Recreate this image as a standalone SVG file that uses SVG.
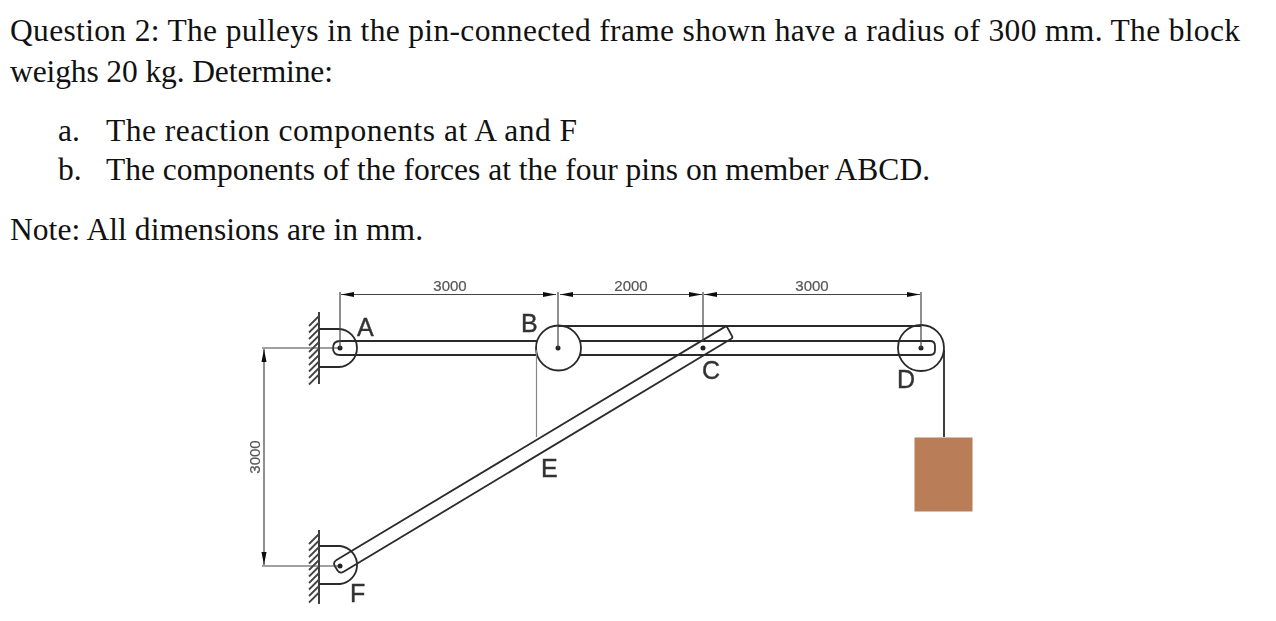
<svg xmlns="http://www.w3.org/2000/svg" width="1276" height="621" viewBox="0 0 1276 621">
<style>
.q{font-family:"Liberation Serif","Times New Roman",serif;font-size:31.5px;fill:#111}
.l{font-family:"Liberation Sans",Arial,sans-serif;font-size:25px;fill:#333;stroke:#333;stroke-width:.4}
.d{font-family:"Liberation Sans",Arial,sans-serif;font-size:15px;fill:#555;stroke:#555;stroke-width:.2}
.s{fill:none;stroke:#2a2a2a;stroke-width:1.8}
.t{fill:none;stroke:#444;stroke-width:1.2}
.r{fill:none;stroke:#888;stroke-width:1.2}
.h{fill:none;stroke:#444;stroke-width:1.8}
.pin{fill:#222}
</style>
<defs>
<filter id="b" x="-2%" y="-2%" width="104%" height="104%"><feGaussianBlur stdDeviation="0.55"/></filter>
<marker id="ah" markerWidth="14" markerHeight="6" refX="13" refY="3" orient="auto-start-reverse" markerUnits="userSpaceOnUse"><path d="M0 .5L13 3L0 5.500z" fill="#111"/></marker>
<path id="hatch" d="M0 0l-10 10M0 6.500l-10 10M0 13l-10 10M0 19.500l-10 10M0 26l-10 10M0 32.500l-10 10M0 39l-10 10M0 45.500l-10 10M0 52l-10 10M0 58.500l-10 10" class="h"/>
</defs>
<rect width="1276" height="621" fill="#fff"/>
<g id="question">
<text class="q" x="10" y="41" textLength="1230">Question 2: The pulleys in the pin-connected frame shown have a radius of 300 mm. The block</text>
<text class="q" x="10" y="82" textLength="323">weighs 20 kg. Determine:</text>
<text class="q" x="58" y="141">a.</text>
<text class="q" x="106" y="141" textLength="471">The reaction components at A and F</text>
<text class="q" x="58" y="180">b.</text>
<text class="q" x="106" y="180" textLength="824">The components of the forces at the four pins on member ABCD.</text>
<text class="q" x="10" y="240" textLength="413">Note: All dimensions are in mm.</text>
</g>
<g id="wall-A" filter="url(#b)"><path class="s" d="M319 312V384"/><use href="#hatch" x="319" y="316"/></g>
<g id="wall-F" filter="url(#b)"><path class="s" d="M319 530V604"/><use href="#hatch" x="319" y="534"/></g>
<g id="F" filter="url(#b)">
<path class="s" d="M319 546H340A19 19 0 0 1 357 566A19 19 0 0 1 340 584H319"/>
</g>
<g id="member-FC" filter="url(#b)">
<path class="s" d="M336.500 560L724.800 326.900Q726.500 326 727.400 327.600L732 336Q733 337.700 731.300 338.700L343.600 571.800Q340 574 337.500 570.500L334.500 565.500Q333 562 336.500 560Z" fill="#fff"/>
</g>
<g id="member-ABCD" filter="url(#b)">
<path class="s" d="M346 341H930Q935 341 935 346V350Q935 355 930 355H340Q333 355 333 348Q333 341 340 341H346"/>
</g>
<g id="A" filter="url(#b)">
<path class="s" d="M319 329H339A19 19 0 0 1 357 348A19 19 0 0 1 339 367H319"/>
<circle class="pin" cx="340" cy="348" r="2.500"/>
<text class="l" x="357" y="336">A</text>
</g>
<g id="B" filter="url(#b)">
<circle class="s" cx="558.500" cy="348" r="22.500" style="fill:#fff"/>
<circle class="pin" cx="558" cy="348" r="2.500"/>
<text class="l" x="521" y="332">B</text>
</g>
<g id="C" filter="url(#b)">
<circle class="pin" cx="703" cy="348" r="2.500"/>
<text class="l" x="702" y="379">C</text>
</g>
<g id="D" filter="url(#b)">
<circle class="s" cx="921" cy="348" r="23"/>
<circle class="pin" cx="921" cy="348" r="2.500"/>
<text class="l" x="897" y="388">D</text>
</g>
<g id="E" filter="url(#b)"><text class="l" x="541" y="477">E</text></g>
<g id="F-pin" filter="url(#b)">
<circle class="pin" cx="340" cy="566" r="2.500"/>
<text class="l" x="350" y="602">F</text>
</g>
<g id="connectors" filter="url(#b)">
<path class="t" d="M340 292V348M558 292V348M703 292V341M921 292V348"/>
<path class="t" marker-start="url(#ah)" marker-end="url(#ah)" d="M341 294.500H556"/>
<path class="t" marker-start="url(#ah)" marker-end="url(#ah)" d="M560 294.500H702"/>
<path class="t" marker-start="url(#ah)" marker-end="url(#ah)" d="M704 294.500H920"/>
<path class="t" d="M262 348H338M262 566H338"/>
<path class="t" marker-start="url(#ah)" marker-end="url(#ah)" d="M264 349V565"/>
<path class="s" d="M558 326H921"/>
<path class="r" d="M536.500 350V437"/>
<path class="s" d="M944 350V437"/>
</g>
<g id="dims" filter="url(#b)">
<text class="d" x="450" y="291" text-anchor="middle">3000</text>
<text class="d" x="631" y="291" text-anchor="middle">2000</text>
<text class="d" x="812" y="291" text-anchor="middle">3000</text>
<text class="d" transform="translate(260 457) rotate(-90)" text-anchor="middle">3000</text>
</g>
<g id="block"><rect x="914.500" y="437.500" width="58" height="74" fill="#b97d58"/></g>
</svg>
